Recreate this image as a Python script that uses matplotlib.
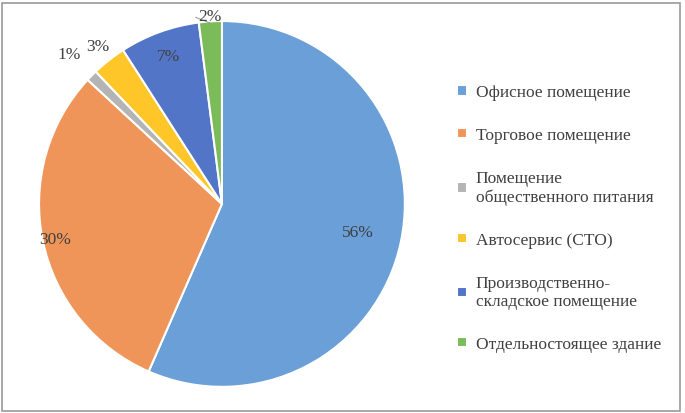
import numpy as np
import matplotlib.pyplot as plt
from matplotlib.patches import Rectangle

plt.rcParams['font.family'] = 'Liberation Serif'

labels = ['Офисное помещение', 'Торговое помещение',
          'Помещение\nобщественного питания', 'Автосервис (СТО)',
          'Производственно-\nскладское помещение', 'Отдельностоящее здание']
values = [56, 30, 1, 3, 7, 2]
colors = ['#6a9fd8', '#f0955a', '#b4b4b4', '#ffc629', '#5275c8', '#7cbb5a']
label_dist = [0.76, 0.93, 1.17, 1.1, 0.86, 1.03]

fig = plt.figure(figsize=(6.85, 4.14), dpi=100)
fig.patches.append(Rectangle((0.003, 0.006), 0.99, 0.985, transform=fig.transFigure,
                             fill=False, edgecolor='#9a9a9a', linewidth=1.2))
ax = fig.add_axes([0.057, 0.063, 0.534, 0.884])
wedges, _ = ax.pie(values, colors=colors, startangle=90, counterclock=False,
                   wedgeprops=dict(edgecolor='white', linewidth=1.5))
ax.set_aspect('equal')
ax.set_xlim(-1.0, 1.0)
ax.set_ylim(-1.0, 1.0)

for w, v, d in zip(wedges, values, label_dist):
    ang = np.deg2rad((w.theta1 + w.theta2) / 2)
    ax.text(d * np.cos(ang), d * np.sin(ang), f'{v}%', ha='center', va='center',
            fontsize=12.5, color='#404040', clip_on=False)
# leader line for the 2% slice
ang = np.deg2rad((wedges[5].theta1 + wedges[5].theta2) / 2)
ax.plot([0.98 * np.cos(ang), 1.0 * np.cos(ang) - 0.08], [0.99 * np.sin(ang), 1.02],
        color='#a0a0a0', linewidth=0.8, clip_on=False)

fig.legend(wedges, labels, loc='center left', bbox_to_anchor=(0.645, 0.47),
           frameon=False, fontsize=12.5, labelspacing=1.55, handlelength=0.55,
           handleheight=0.55, handletextpad=0.5, labelcolor='#404040')

fig.savefig('out.png', dpi=100)
